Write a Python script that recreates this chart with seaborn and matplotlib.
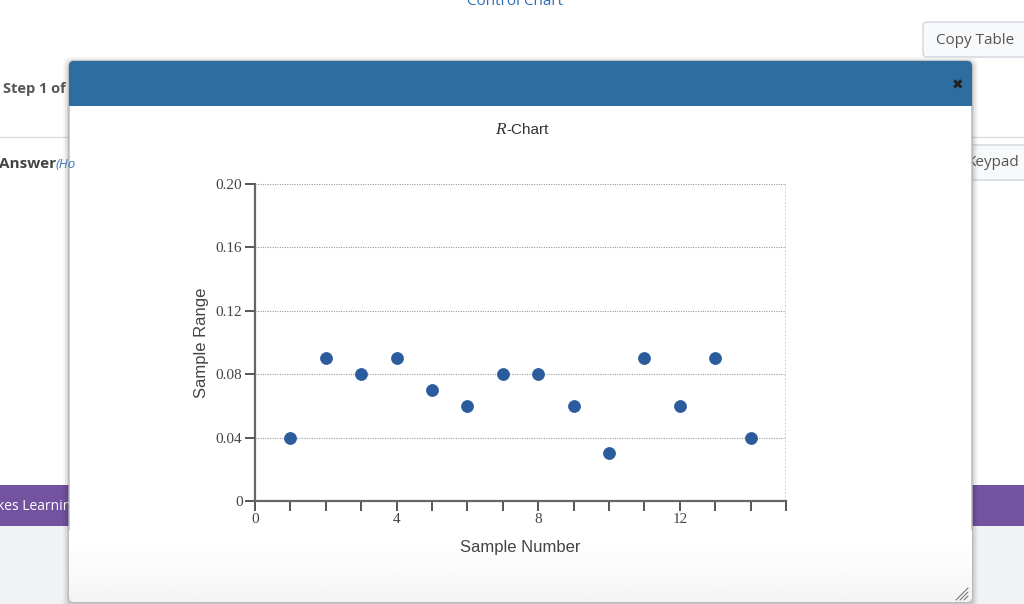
import numpy as np
import pandas as pd
import seaborn as sns
import matplotlib.pyplot as plt
from matplotlib.patches import FancyBboxPatch, Rectangle

# chart data
sample_number = [1, 2, 3, 4, 5, 6, 7, 8, 9, 10, 11, 12, 13, 14]
sample_range = [0.04, 0.09, 0.08, 0.09, 0.07, 0.06, 0.08, 0.08, 0.06, 0.03, 0.09, 0.06, 0.09, 0.04]
y_ticks = [0, 0.04, 0.08, 0.12, 0.16, 0.20]
y_tick_labels = ["0", "0.04", "0.08", "0.12", "0.16", "0.20"]
x_label_ticks = [0, 4, 8, 12]

df = pd.DataFrame({"Sample Number": sample_number, "Sample Range": sample_range})

sns.set_theme(style="white")
plt.rcParams["font.family"] = ["Open Sans", "DejaVu Sans"]

W, H = 1024, 604
fig = plt.figure(figsize=(W / 100, H / 100), dpi=100)

# page behind the modal, drawn in pixel coords
bg = fig.add_axes([0, 0, 1, 1])
bg.set_xlim(0, W)
bg.set_ylim(H, 0)
bg.axis("off")

bg.text(515, 5, "Control Chart", color="#2f6db3", fontsize=11, ha="center", va="baseline")
bg.add_patch(FancyBboxPatch((923, 22), 110, 35, boxstyle="round,pad=0,rounding_size=4",
                            fc="#f7f9fb", ec="#cfd6dd", lw=1))
bg.text(975, 40, "Copy Table", color="#555555", fontsize=11, ha="center", va="center")
bg.text(3, 89, "Step 1 of", color="#555555", fontsize=10.5, fontweight="bold", va="center")
bg.plot([0, W], [137, 137], color="#dddddd", lw=1, zorder=0.5)
bg.text(-1, 164, "Answer", color="#444444", fontsize=11, fontweight="bold", va="center")
bg.text(55, 165, "(Ho", color="#3a78c0", fontsize=9.5, style="italic", va="center")
bg.add_patch(FancyBboxPatch((962, 145), 75, 35, boxstyle="round,pad=0,rounding_size=4",
                            fc="#f7f9fb", ec="#cfd6dd", lw=1, zorder=0.6))
bg.text(993, 163, "Keypad", color="#555555", fontsize=11, ha="center", va="center", zorder=0.7)
bg.add_patch(Rectangle((0, 485), W, 41, fc="#7352a0", ec="none", zorder=0.5))
bg.text(-3, 507, "kes Learning", color="white", fontsize=10, va="center", zorder=0.7)
bg.add_patch(Rectangle((0, 526), W, 80, fc="#f1f2f4", ec="none", zorder=0.5))

# modal
for off, a in [(6, 0.04), (4, 0.06), (2, 0.08)]:
    bg.add_patch(FancyBboxPatch((69 - off, 61 - off + 2), 903 + 2 * off, 542 + 2 * off,
                                boxstyle="round,pad=0,rounding_size=8", fc="black", ec="none",
                                alpha=a, zorder=0.9))
modal = FancyBboxPatch((69, 61), 903, 541, boxstyle="round,pad=0,rounding_size=5",
                       fc="white", ec="#b5b5b5", lw=1, zorder=1)
bg.add_patch(modal)
grad = np.linspace(0, 1, 256).reshape(-1, 1) ** 1.5
im = bg.imshow(grad, extent=[69, 972, 603, 530], cmap="gray_r", vmin=0, vmax=22,
               aspect="auto", interpolation="bilinear", zorder=1.1)
im.set_clip_path(modal)
bg.add_patch(FancyBboxPatch((69, 61), 903, 45, boxstyle="round,pad=0,rounding_size=5",
                            fc="#2d6da0", ec="none", zorder=1.2))
bg.add_patch(Rectangle((69, 95), 903, 11, fc="#2d6da0", ec="none", zorder=1.2))
bg.text(958, 85, "✖", color="#222222", fontsize=10, ha="center", va="center",
        family=["DejaVu Sans"], zorder=2)
for d in [4, 8, 12]:
    bg.plot([968 - d, 968], [600, 600 - d], color="#777777", lw=0.8, zorder=2)

# title
bg.text(506, 130, "R", family=["Liberation Serif"], style="italic", fontsize=12.5,
        color="#333333", ha="right", va="center", zorder=2)
bg.text(506, 130, "-Chart", family=["Liberation Sans"], fontsize=11, color="#333333",
        ha="left", va="center", zorder=2)

# the chart
ax = fig.add_axes([255 / W, 1 - 501 / H, 531 / W, 317 / H])
ax.set_facecolor("none")
sns.scatterplot(data=df, x="Sample Number", y="Sample Range", ax=ax, s=75,
                color="#2a5b9c", edgecolor="#2a5b9c", linewidth=0.5, zorder=5, clip_on=False)

ax.set_xlim(0, 15)
ax.set_ylim(0, 0.20)
ax.set_xticks(range(0, 16))
ax.set_xticklabels([str(v) if v in x_label_ticks else "" for v in range(0, 16)])
ax.set_yticks(y_ticks)
ax.set_yticklabels(y_tick_labels)
for v in y_ticks[1:]:
    ax.axhline(v, color="#9a9a9a", lw=0.8, ls=(0, (1, 1.2)), zorder=1)
ax.axvline(15, color="#c4c4c4", lw=1.2, ls=(0, (1, 1.2)), zorder=1)

for side in ["top", "right"]:
    ax.spines[side].set_visible(False)
for side in ["left", "bottom"]:
    ax.spines[side].set_color("#666666")
    ax.spines[side].set_linewidth(1.6)
ax.tick_params(axis="both", direction="out", color="#555555", width=1.4,
               labelcolor="#444444", labelsize=11, bottom=True, left=True)
ax.tick_params(axis="x", length=7, pad=1.5)
ax.tick_params(axis="y", length=7, pad=2)
for lab in ax.get_xticklabels() + ax.get_yticklabels():
    lab.set_family(["Liberation Serif"])

ax.set_xlabel("Sample Number", family=["Liberation Sans"], fontsize=12, color="#444444", labelpad=10)
ax.set_ylabel("Sample Range", family=["Liberation Sans"], fontsize=12, color="#444444", labelpad=5)

fig.savefig("out.png", dpi=100)
